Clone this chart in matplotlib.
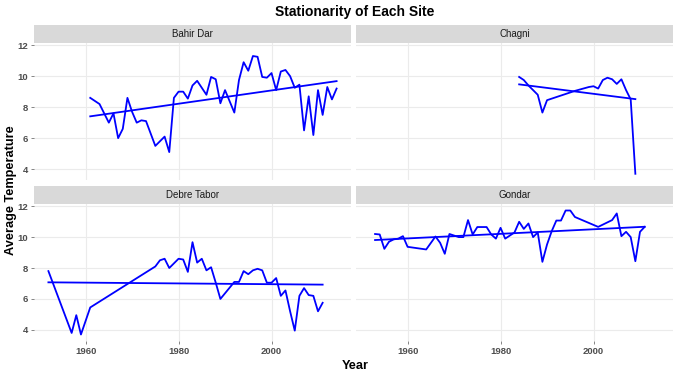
import matplotlib
matplotlib.use("Agg")
import matplotlib.pyplot as plt
import numpy as np

plt.rcParams['font.family'] = ['Liberation Sans', 'DejaVu Sans']

sites = ["Bahir Dar", "Chagni", "Debre Tabor", "Gondar"]

bahir_years = [1961, 1963, 1964, 1965, 1966, 1967, 1968, 1969, 1970, 1971, 1972, 1973,
               1975, 1977, 1978, 1979, 1980, 1981, 1982, 1983, 1984, 1986, 1987, 1988,
               1989, 1990, 1992, 1993, 1994, 1995, 1996, 1997, 1998, 1999, 2000, 2001,
               2002, 2003, 2004, 2005, 2006, 2007, 2008, 2009, 2010, 2011, 2012, 2013, 2014]
bahir_temp = [8.6, 8.2, 7.6, 7.0, 7.6, 6.0, 6.6, 8.6, 7.7, 7.0, 7.15, 7.1,
              5.5, 6.1, 5.1, 8.6, 9.0, 9.0, 8.55, 9.4, 9.7, 8.8, 9.95, 9.8,
              8.25, 9.1, 7.65, 9.75, 10.9, 10.35, 11.3, 11.25, 9.95, 9.9, 10.2, 9.1,
              10.3, 10.4, 10.0, 9.25, 9.45, 6.5, 8.7, 6.2, 9.1, 7.5, 9.3, 8.5, 9.2]

chagni_years = [1984, 1985, 1986, 1988, 1989, 1990, 1996, 1999, 2000, 2001, 2002, 2003,
                2004, 2005, 2006, 2007, 2008, 2009]
chagni_temp = [9.95, 9.75, 9.4, 8.8, 7.65, 8.45, 9.05, 9.3, 9.35, 9.2, 9.75, 9.9,
               9.8, 9.5, 9.8, 9.1, 8.5, 3.7]

debre_years = [1952, 1957, 1958, 1959, 1961, 1975, 1976, 1977, 1978, 1980, 1981, 1982,
               1983, 1984, 1985, 1986, 1987, 1988, 1989, 1992, 1993, 1994, 1995, 1996,
               1997, 1998, 1999, 2000, 2001, 2002, 2003, 2004, 2005, 2006, 2007, 2008,
               2009, 2010, 2011]
debre_temp = [7.8, 3.8, 4.95, 3.7, 5.45, 8.1, 8.5, 8.6, 8.0, 8.6, 8.55, 7.75,
              9.67, 8.35, 8.6, 7.85, 8.05, 7.05, 6.0, 7.1, 7.1, 7.8, 7.6, 7.85,
              7.95, 7.85, 7.05, 7.05, 7.35, 6.2, 6.55, 5.2, 3.95, 6.2, 6.7, 6.25,
              6.2, 5.2, 5.75]

gondar_years = [1953, 1954, 1955, 1956, 1957, 1958, 1959, 1960, 1964, 1966, 1967, 1968,
                1969, 1970, 1971, 1972, 1973, 1974, 1975, 1977, 1978, 1979, 1980, 1981,
                1982, 1983, 1984, 1985, 1986, 1987, 1988, 1989, 1990, 1991, 1992, 1993,
                1994, 1995, 1996, 2001, 2004, 2005, 2006, 2007, 2008, 2009, 2010, 2011]
gondar_temp = [10.2, 10.17, 9.24, 9.7, 9.85, 9.9, 10.06, 9.37, 9.2, 10.04, 9.63, 8.92,
               10.2, 10.1, 10.0, 10.0, 11.1, 10.17, 10.65, 10.65, 10.17, 9.9, 10.6, 9.9,
               10.1, 10.3, 10.99, 10.53, 10.88, 10.0, 10.3, 8.4, 9.52, 10.38, 11.07, 11.07,
               11.72, 11.72, 11.3, 10.66, 11.1, 11.53, 10.06, 10.34, 10.0, 8.44, 10.34, 10.66]

data = {
    "Bahir Dar": (bahir_years, bahir_temp),
    "Chagni": (chagni_years, chagni_temp),
    "Debre Tabor": (debre_years, debre_temp),
    "Gondar": (gondar_years, gondar_temp),
}

yticks = [4, 6, 8, 10, 12]
xticks = [1960, 1980, 2000]

# shared limits with ggplot's 5% expansion
allx = np.concatenate([np.array(v[0]) for v in data.values()])
ally = np.concatenate([np.array(v[1]) for v in data.values()])
xpad = (allx.max() - allx.min()) * 0.05
ypad = (ally.max() - ally.min()) * 0.05
xlim = (allx.min() - xpad, allx.max() + xpad)
ylim = (ally.min() - ypad, ally.max() + ypad)

W, H = 680, 377
fig = plt.figure(figsize=(W / 100, H / 100), dpi=100)

lefts = [34, 356]
pw = 317
rows = [(25, 43.3, 180), (185.7, 204.3, 340.7)]  # strip top, panel top, panel bottom

for i, site in enumerate(sites):
    r, c = divmod(i, 2)
    x0 = lefts[c]
    st, pt, pb = rows[r]
    ax = fig.add_axes([x0 / W, 1 - pb / H, pw / W, (pb - pt) / H])
    sax = fig.add_axes([x0 / W, 1 - pt / H, pw / W, (pt - st) / H])
    sax.set_facecolor('#D9D9D9')
    sax.set_xticks([])
    sax.set_yticks([])
    for s in sax.spines.values():
        s.set_visible(False)
    sax.text(0.5, 0.5, site, ha='center', va='center', fontsize=7, color='#1A1A1A',
             transform=sax.transAxes)

    yrs, tmp = data[site]
    yrs = np.array(yrs)
    tmp = np.array(tmp)
    ax.plot(yrs, tmp, color='#0000FF', lw=1.3, solid_joinstyle='round')
    slope, intercept = np.polyfit(yrs, tmp, 1)
    xs = np.array([yrs.min(), yrs.max()])
    ax.plot(xs, slope * xs + intercept, color='#0000FF', lw=1.3)

    ax.set_xlim(xlim)
    ax.set_ylim(ylim)
    ax.set_xticks(xticks)
    ax.set_yticks(yticks)
    ax.grid(True, color='#EBEBEB', lw=0.8)
    ax.set_axisbelow(True)
    for s in ax.spines.values():
        s.set_visible(False)
    ax.tick_params(colors='#555555', length=2.5, width=0.5, labelsize=6.8,
                   labelcolor='#4D4D4D', pad=2)
    for lab in ax.get_xticklabels() + ax.get_yticklabels():
        lab.set_fontweight('bold')
    if c == 1:
        ax.tick_params(axis='y', left=False, labelleft=False)
    if r == 0:
        ax.tick_params(axis='x', bottom=False, labelbottom=False)

fig.text(355 / W, 1 - 12 / H, "Stationarity of Each Site", ha='center', va='center',
         fontsize=10, fontweight='bold', color='black')
fig.text(355 / W, 1 - 366 / H, "Year", ha='center', va='center',
         fontsize=9.2, fontweight='bold', color='black')
fig.text(11 / W, 1 - 190 / H, "Average Temperature", ha='center', va='center',
         rotation=90, fontsize=9.2, fontweight='bold', color='black')

fig.savefig("out.png", dpi=100)
